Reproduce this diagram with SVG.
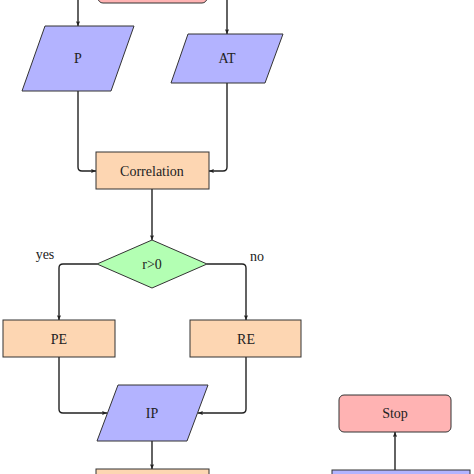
<svg xmlns="http://www.w3.org/2000/svg" width="474" height="474" viewBox="0 0 474 474">
<defs>
<marker id="ah" viewBox="0 0 10 10" refX="9" refY="5" markerWidth="6" markerHeight="6" orient="auto" markerUnits="userSpaceOnUse">
<path d="M1,1.5 L9,5 L1,8.5 Q3,5 1,1.5 Z" fill="#222"/>
</marker>
<style>
.pink{fill:#ffb3b3;stroke:#333;stroke-width:1}
.blue{fill:#b3b3ff;stroke:#333;stroke-width:1}
.orange{fill:#fdd6b2;stroke:#333;stroke-width:1}
.green{fill:#b3ffb3;stroke:#333;stroke-width:1}
.c{fill:none;stroke:#222;stroke-width:1.4;marker-end:url(#ah)}
text{font-family:"Liberation Serif","DejaVu Serif",serif;font-size:14px;fill:#222;text-anchor:middle;dominant-baseline:central}
</style>
</defs>
<rect width="474" height="474" fill="#fff"/>
<g id="connectors">
<path class="c" d="M78,0 L78,26"/>
<path class="c" d="M227,0 L227,34"/>
<path class="c" d="M78,91 L78,167 Q78,171 82,171 L96,171"/>
<path class="c" d="M227,83 L227,167 Q227,171 223,171 L209,171"/>
<path class="c" d="M152,189 L152,240"/>
<path class="c" d="M97,264 L63,264 Q59,264 59,268 L59,320"/>
<path class="c" d="M207,264 L242,264 Q246,264 246,268 L246,320"/>
<path class="c" d="M59,357 L59,409 Q59,413 63,413 L107,413"/>
<path class="c" d="M246,357 L246,409 Q246,413 242,413 L198,413"/>
<path class="c" d="M152,441 L152,469"/>
<path class="c" d="M395,470 L395,432"/>
</g>
<g id="start"><rect class="pink" x="98" y="-30" width="109" height="33" rx="5"/></g>
<g id="P"><polygon class="blue" points="45,26 134,26 111,91 22,91"/><text x="78" y="58">P</text></g>
<g id="AT"><polygon class="blue" points="188,34 283,34 265,83 171,83"/><text x="227" y="58">AT</text></g>
<g id="Correlation"><rect class="orange" x="96" y="152" width="113" height="37"/><text x="152" y="171">Correlation</text></g>
<g id="decision"><polygon class="green" points="152,240 207,264 152,288 97,264"/><text x="152" y="264">r&gt;0</text></g>
<text x="45" y="254">yes</text>
<text x="257" y="256">no</text>
<g id="PE"><rect class="orange" x="3" y="320" width="112" height="37"/><text x="59" y="339">PE</text></g>
<g id="RE"><rect class="orange" x="190" y="320" width="111" height="37"/><text x="246" y="339">RE</text></g>
<g id="IP"><polygon class="blue" points="118,385 208,385 187,441 97,441"/><text x="152" y="413">IP</text></g>
<g id="bottom"><rect class="orange" x="96" y="469" width="113" height="37"/></g>
<g id="Stop"><rect class="pink" x="339" y="395" width="112" height="37" rx="5"/><text x="395" y="413">Stop</text></g>
<g id="bottomright"><rect class="blue" x="332" y="470" width="138" height="37"/></g>
</svg>
